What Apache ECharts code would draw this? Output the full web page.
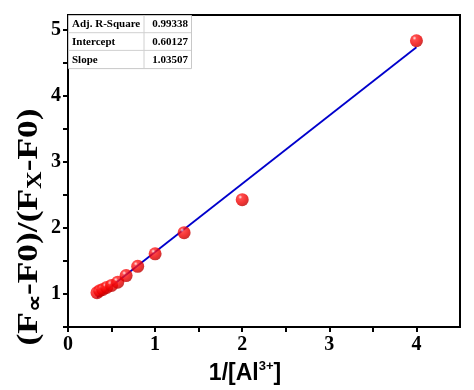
<!DOCTYPE html>
<html>
<head>
<meta charset="utf-8">
<script src="https://cdn.jsdelivr.net/npm/echarts@6/dist/echarts.min.js"></script>
<style>html,body{margin:0;padding:0;background:#fff}#c{width:474px;height:390px}</style>
</head>
<body>
<div id="c"></div>
<script>
// Data
var xValues = [0.333, 0.364, 0.4, 0.444, 0.5, 0.571, 0.667, 0.8, 1.0, 1.333, 2.0, 4.0];
var yValues = [1.02, 1.05, 1.07, 1.10, 1.13, 1.18, 1.28, 1.42, 1.61, 1.93, 2.43, 4.84];
var fitX = [0.333, 4.0];
var fitY = [0.946, 4.742];
var statNames = ['Adj. R-Square', 'Intercept', 'Slope'];
var statValues = ['0.99338', '0.60127', '1.03507'];

var chart = echarts.init(document.getElementById('c'));
var serif = '"Liberation Serif","Times New Roman",serif';
var sans = '"Liberation Sans",Arial,sans-serif';

var pts = xValues.map(function (x, i) { return [x, yValues[i]]; });
var fitPts = fitX.map(function (x, i) { return [x, fitY[i]]; });

var gL = 68, gT = 15, rowH = 17.7, col1 = 76, col2 = 47;
var tableEls = [];
tableEls.push({ type: 'rect', left: gL, top: gT, shape: { width: col1 + col2, height: rowH * 3 },
  style: { fill: '#fff', stroke: '#c8c8c8', lineWidth: 1 }, z: 10 });
for (var i = 0; i < 3; i++) {
  if (i > 0) tableEls.push({ type: 'line', shape: { x1: gL, y1: gT + rowH * i, x2: gL + col1 + col2, y2: gT + rowH * i },
    style: { stroke: '#d0d0d0', lineWidth: 1 }, z: 11 });
  tableEls.push({ type: 'text', x: gL + 4, y: gT + rowH * i + rowH / 2 + 0.5,
    style: { text: statNames[i], font: 'bold 11px ' + serif, fill: '#000', textVerticalAlign: 'middle', verticalAlign: 'middle' }, z: 12 });
  tableEls.push({ type: 'text', x: gL + col1 + col2 - 3, y: gT + rowH * i + rowH / 2 + 0.5,
    style: { text: statValues[i], font: 'bold 11px ' + serif, fill: '#000', textAlign: 'right', align: 'right', textVerticalAlign: 'middle', verticalAlign: 'middle' }, z: 12 });
}
tableEls.push({ type: 'line', shape: { x1: gL + col1, y1: gT, x2: gL + col1, y2: gT + rowH * 3 },
  style: { stroke: '#d0d0d0', lineWidth: 1 }, z: 11 });

var option = {
  animation: false,
  backgroundColor: '#fff',
  grid: { left: 68, right: 14, top: 15, bottom: 63, show: true, borderColor: '#000', borderWidth: 2, backgroundColor: 'transparent' },
  xAxis: {
    type: 'value', min: 0, max: 4.5, interval: 0.5,
    axisLine: { show: true, lineStyle: { color: '#000', width: 2 } },
    axisTick: { show: true, length: 5, lineStyle: { color: '#000', width: 2 } },
    splitLine: { show: false },
    axisLabel: { color: '#000', fontFamily: serif, fontWeight: 'bold', fontSize: 20, margin: 8,
      showMaxLabel: false,
      formatter: function (v) { return Math.abs(v - Math.round(v)) < 1e-6 ? String(Math.round(v)) : ''; } },
    name: '{a|1/[Al}{s|3+}{a|]}', nameLocation: 'middle', nameGap: 33,
    nameTextStyle: { padding: [0, 38, 0, 0], rich: {
      a: { fontFamily: sans, fontWeight: 'bold', fontSize: 23, color: '#000', verticalAlign: 'bottom' },
      s: { fontFamily: sans, fontWeight: 'bold', fontSize: 13, color: '#000', verticalAlign: 'top', padding: [0, 0, 12, 0] } } }
  },
  yAxis: {
    type: 'value', min: 0.5, max: 5.23, interval: 0.5,
    axisLine: { show: true, lineStyle: { color: '#000', width: 2 } },
    axisTick: { show: true, length: 5, lineStyle: { color: '#000', width: 2 } },
    splitLine: { show: false },
    axisLabel: { color: '#000', fontFamily: serif, fontWeight: 'bold', fontSize: 20, margin: 7,
      showMaxLabel: false,
      formatter: function (v) { return Math.abs(v - Math.round(v)) < 1e-6 ? String(Math.round(v)) : ''; } }
  },
  graphic: [
    { type: 'text', x: 30, y: 227, rotation: Math.PI / 2, scaleX: 1.22, scaleY: 1,
      style: { text: '{a|(F}{s|∝}{a|-F0)/(F}{s|X}{a|-F0)}', align: 'center', verticalAlign: 'middle',
        rich: {
          a: { fontFamily: serif, fontWeight: 'bold', fontSize: 29, fill: '#000', color: '#000', lineHeight: 32, verticalAlign: 'middle' },
          s: { fontFamily: serif, fontWeight: 'bold', fontSize: 20, fill: '#000', color: '#000', lineHeight: 32, verticalAlign: 'bottom' } } } }
  ].concat(tableEls),
  series: [
    { type: 'line', data: fitPts, symbol: 'none', lineStyle: { color: '#0000cc', width: 1.8 }, z: 3 },
    { type: 'scatter', data: pts, symbolSize: 13, z: 4,
      itemStyle: { color: { type: 'radial', x: 0.35, y: 0.3, r: 0.7,
        colorStops: [{ offset: 0, color: '#ffe0e0' }, { offset: 0.22, color: '#ff2020' }, { offset: 0.7, color: '#ee0000' }, { offset: 1, color: '#c00000' }] } } }
  ]
};
chart.setOption(option);
</script>
</body>
</html>
